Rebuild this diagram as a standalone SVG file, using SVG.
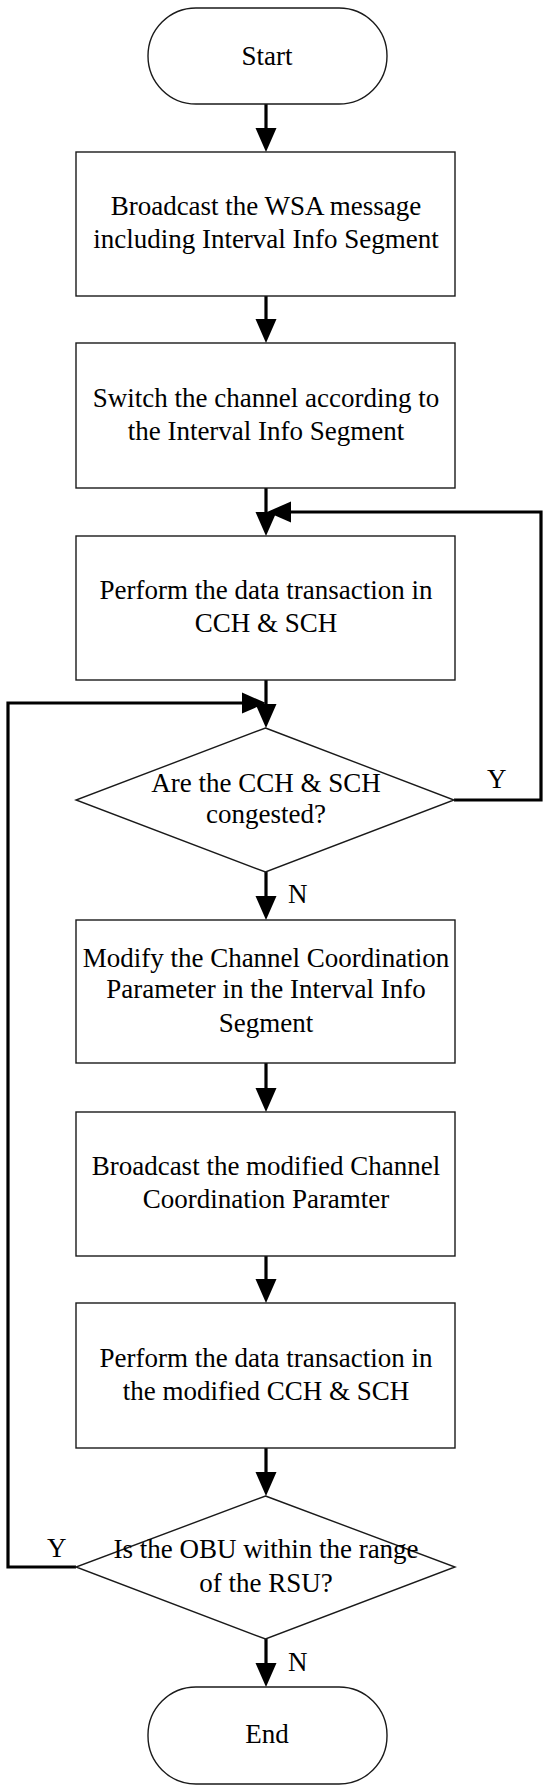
<svg xmlns="http://www.w3.org/2000/svg" width="550" height="1791" viewBox="0 0 550 1791">
<style>
.shape{fill:#ffffff;stroke:#1a1a1a;stroke-width:1.4}
.t{font-family:"Liberation Serif","Times New Roman",serif;font-size:27px;fill:#000;text-anchor:middle}
.lbl{font-family:"Liberation Serif","Times New Roman",serif;font-size:27px;fill:#000}
.c{fill:none;stroke:#000;stroke-width:3.2}
</style>
<defs>
<marker id="ah" markerUnits="userSpaceOnUse" markerWidth="24" markerHeight="22" refX="0" refY="10.5" orient="auto" viewBox="0 0 24 21">
<path d="M0,0 L24,10.5 L0,21 z" fill="#000"/>
</marker>
</defs>
<rect width="550" height="1791" fill="#ffffff"/>
<g id="connectors">
<line class="c" x1="266" y1="104" x2="266" y2="128" marker-end="url(#ah)"/>
<line class="c" x1="266" y1="296" x2="266" y2="319" marker-end="url(#ah)"/>
<line class="c" x1="266" y1="488" x2="266" y2="512" marker-end="url(#ah)"/>
<line class="c" x1="266" y1="680" x2="266" y2="704" marker-end="url(#ah)"/>
<line class="c" x1="266" y1="872" x2="266" y2="896" marker-end="url(#ah)"/>
<line class="c" x1="266" y1="1063" x2="266" y2="1088" marker-end="url(#ah)"/>
<line class="c" x1="266" y1="1256" x2="266" y2="1279" marker-end="url(#ah)"/>
<line class="c" x1="266" y1="1448" x2="266" y2="1472" marker-end="url(#ah)"/>
<line class="c" x1="266" y1="1639" x2="266" y2="1663" marker-end="url(#ah)"/>
<polyline class="c" points="454,800 541,800 541,512 291,512" marker-end="url(#ah)"/>
<polyline class="c" points="76,1567 8,1567 8,703 242,703" marker-end="url(#ah)"/>
</g>
<g id="start">
<rect class="shape" x="148" y="8" width="239" height="96" rx="48" ry="48"/>
<text class="t" x="267" y="65">Start</text>
</g>
<g id="box1">
<rect class="shape" x="76" y="152" width="379" height="144"/>
<text class="t" x="266" y="215">Broadcast the WSA message</text>
<text class="t" x="266" y="248">including Interval Info Segment</text>
</g>
<g id="box2">
<rect class="shape" x="76" y="343" width="379" height="145"/>
<text class="t" x="266" y="407">Switch the channel according to</text>
<text class="t" x="266" y="440">the Interval Info Segment</text>
</g>
<g id="box3">
<rect class="shape" x="76" y="536" width="379" height="144"/>
<text class="t" x="266" y="599">Perform the data transaction in</text>
<text class="t" x="266" y="632">CCH &amp; SCH</text>
</g>
<g id="decision1">
<polygon class="shape" points="265.5,728 454,800 265.5,872 76,800"/>
<text class="t" x="266" y="792">Are the CCH &amp; SCH</text>
<text class="t" x="266" y="823">congested?</text>
</g>
<g id="box4">
<rect class="shape" x="76" y="920" width="379" height="143"/>
<text class="t" x="266" y="967">Modify the Channel Coordination</text>
<text class="t" x="266" y="998">Parameter in the Interval Info</text>
<text class="t" x="266" y="1032">Segment</text>
</g>
<g id="box5">
<rect class="shape" x="76" y="1112" width="379" height="144"/>
<text class="t" x="266" y="1175">Broadcast the modified Channel</text>
<text class="t" x="266" y="1208">Coordination Paramter</text>
</g>
<g id="box6">
<rect class="shape" x="76" y="1303" width="379" height="145"/>
<text class="t" x="266" y="1367">Perform the data transaction in</text>
<text class="t" x="266" y="1400">the modified CCH &amp; SCH</text>
</g>
<g id="decision2">
<polygon class="shape" points="265.5,1496 455,1567 265.5,1639 76,1567"/>
<text class="t" x="266" y="1558">Is the OBU within the range</text>
<text class="t" x="266" y="1592">of the RSU?</text>
</g>
<g id="end">
<rect class="shape" x="148" y="1687" width="239" height="97" rx="48" ry="48"/>
<text class="t" x="267" y="1743">End</text>
</g>
<g id="labels">
<text class="lbl" x="487" y="788">Y</text>
<text class="lbl" x="288" y="903">N</text>
<text class="lbl" x="47" y="1557">Y</text>
<text class="lbl" x="288" y="1671">N</text>
</g>
</svg>
